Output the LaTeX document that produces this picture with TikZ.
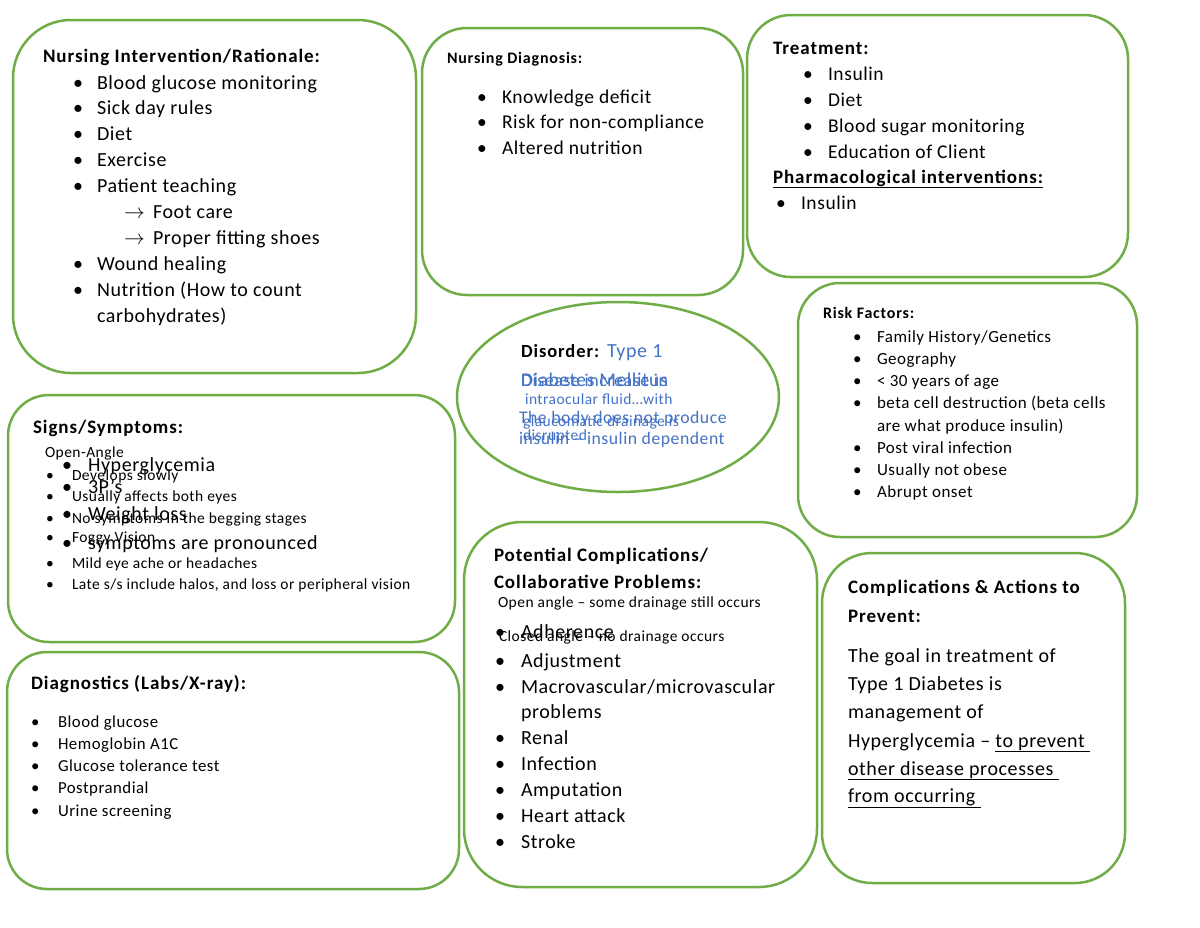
\documentclass[tikz,border=0pt]{standalone}
\usepackage{fontspec}
\setmainfont{Carlito}[LetterSpace=3,BoldFeatures={LetterSpace=5}]
\definecolor{boxgreen}{RGB}{112,173,71}
\definecolor{dblue}{RGB}{68,114,196}
\newcommand\fs[1]{\fontsize{#1}{#1}\selectfont}
\newcommand\bul[5]{\node[tx] (#1b) at (#2,#4) {•};\node[tx] (#1) at (#3,#4) {#5};}
\begin{document}
\begin{tikzpicture}[x=1pt,y=-1pt,
  tx/.style={anchor=base west,inner sep=0pt,outer sep=0pt},
  box/.style={draw=boxgreen,line width=2.5pt},
  hdr/.style={font=\fs{#1}\bfseries}]
\useasboundingbox (0,0) rectangle (1200,927);
\fill[white] (0,0) rectangle (1200,927);

% ---------- boxes ----------
\draw[box,rounded corners=58pt] (13,20) rectangle (416,373);
\draw[box,rounded corners=45pt] (422,28) rectangle (743,295);
\draw[box,rounded corners=44pt] (747,15) rectangle (1128,277);
\draw[box,rounded corners=42pt] (798,283) rectangle (1137,537);
\draw[box] (618,397) ellipse [x radius=161, y radius=95];
\draw[box,rounded corners=41pt] (8,395) rectangle (455,642);
\draw[box,rounded corners=40pt] (7,652) rectangle (459,889);
\draw[box,rounded corners=58pt] (464,522) rectangle (817,887);
\draw[box,rounded corners=50pt] (822,553) rectangle (1125,883);

% ---------- Nursing Intervention ----------
\node[tx,hdr=19] (niH) at (43,62) {Nursing Intervention/Rationale:};
\begin{scope}[every node/.append style={font=\fs{20}}]
\bul{ni1}{73}{97}{89}{Blood glucose monitoring}
\bul{ni2}{73}{97}{114}{Sick day rules}
\bul{ni3}{73}{97}{140}{Diet}
\bul{ni4}{73}{97}{166}{Exercise}
\bul{ni5}{73}{97}{192}{Patient teaching}
\node[tx] (ni6a) at (124,218) {$\rightarrow$};
\node[tx] (ni6) at (153,218) {Foot care};
\node[tx] (ni7a) at (124,244) {$\rightarrow$};
\node[tx] (ni7) at (153,244) {Proper fitting shoes};
\bul{ni8}{73}{97}{270}{Wound healing}
\bul{ni9}{73}{97}{296}{Nutrition (How to count}
\node[tx] (ni10) at (97,322) {carbohydrates)};
\end{scope}

% ---------- Nursing Diagnosis ----------
\node[tx,hdr=16] (ndH) at (447,63) {Nursing Diagnosis:};
\begin{scope}[every node/.append style={font=\fs{19.5}}]
\bul{nd1}{477}{502}{103}{Knowledge deficit}
\bul{nd2}{477}{502}{128}{Risk for non-compliance}
\bul{nd3}{477}{502}{154}{Altered nutrition}
\end{scope}

% ---------- Treatment ----------
\node[tx,hdr=19] (trH) at (773,54) {Treatment:};
\begin{scope}[every node/.append style={font=\fs{19.5}}]
\bul{tr1}{803}{828}{80}{Insulin}
\bul{tr2}{803}{828}{106}{Diet}
\bul{tr3}{803}{828}{132}{Blood sugar monitoring}
\bul{tr4}{803}{828}{158}{Education of Client}
\node[tx,hdr=19] (phH) at (773,183) {\underline{Pharmacological interventions:}};
\bul{ph1}{776}{801}{209}{Insulin}
\end{scope}

% ---------- Risk Factors ----------
\node[tx,hdr=16] (rfH) at (823,318) {Risk Factors:};
\begin{scope}[every node/.append style={font=\fs{17}}]
\bul{rf1}{853}{877}{342}{Family History/Genetics}
\bul{rf2}{853}{877}{364}{Geography}
\bul{rf3}{853}{877}{386}{< 30 years of age}
\bul{rf4}{853}{877}{408}{beta cell destruction (beta cells}
\node[tx] (rf4c) at (877,431) {are what produce insulin)};
\bul{rf5}{853}{877}{453}{Post viral infection}
\bul{rf6}{853}{877}{475}{Usually not obese}
\bul{rf7}{853}{877}{497}{Abrupt onset}
\end{scope}

% ---------- Disorder (ellipse) ----------
\node[tx,font=\fs{18.5}\bfseries] (dis1) at (521,357) {Disorder:};
\node[tx,font=\fs{20},text=dblue] (dis1t) at (607,357) {Type 1};
\node[tx,font=\fs{18},text=dblue] (dis2b) at (521,386) {Disease increase in};
\node[tx,font=\fs{19.5},text=dblue] (dis2) at (521,386) {Diabetes Mellitus};
\node[tx,font=\fs{15.5},text=dblue] (dis3) at (525,404) {intraocular fluid…with};
\node[tx,font=\fs{15.5},text=dblue] (dis4b) at (523,426) {glaucomatic drainage is};
\node[tx,font=\fs{17.7},text=dblue] (dis4) at (519,423) {The body does not produce};
\node[tx,font=\fs{15.5},text=dblue] (dis5b) at (523,440) {disrupted};
\node[tx,font=\fs{17.7},text=dblue] (dis5) at (519,444) {insulin – insulin dependent};

% ---------- Signs/Symptoms ----------
\node[tx,hdr=19] (ssH) at (33,433) {Signs/Symptoms:};
\node[tx,font=\fs{15.5}] (ssO) at (45,457) {Open-Angle};
\begin{scope}[every node/.append style={font=\fs{15.5}}]
\bul{ss1}{46}{72}{480}{Develops slowly}
\bul{ss2}{46}{72}{501}{Usually affects both eyes}
\bul{ss3}{46}{72}{523}{No symptoms in the begging stages}
\bul{ss4}{46}{72}{542}{Foggy Vision}
\bul{ss5}{46}{72}{568}{Mild eye ache or headaches}
\bul{ss6}{46}{72}{589}{Late s/s include halos, and loss or peripheral vision}
\end{scope}
\begin{scope}[every node/.append style={font=\fs{20}}]
\bul{sb1}{62}{88}{471}{Hyperglycemia}
\bul{sb2}{62}{88}{493}{3P’s}
\bul{sb3}{62}{88}{520}{Weight loss}
\bul{sb4}{62}{88}{549}{symptoms are pronounced}
\end{scope}

% ---------- Diagnostics ----------
\node[tx,hdr=19] (dgH) at (31,689) {Diagnostics (Labs/X-ray):};
\begin{scope}[every node/.append style={font=\fs{16.8}}]
\bul{dg1}{31}{58}{727}{Blood glucose}
\bul{dg2}{31}{58}{749}{Hemoglobin A1C}
\bul{dg3}{31}{58}{771}{Glucose tolerance test}
\bul{dg4}{31}{58}{793}{Postprandial}
\bul{dg5}{31}{58}{816}{Urine screening}
\end{scope}

% ---------- Potential Complications ----------
\node[tx,hdr=19] (pcH1) at (494,561) {Potential Complications/};
\node[tx,hdr=19] (pcH2) at (494,588) {Collaborative Problems:};
\node[tx,font=\fs{15.5}] (pcO) at (498,607) {Open angle – some drainage still occurs};
\node[tx,font=\fs{15.5}] (pcC) at (499,641) {Closed angle – no drainage occurs};
\begin{scope}[every node/.append style={font=\fs{20}}]
\bul{pc1}{495}{521}{638}{Adherence}
\bul{pc2}{495}{521}{667}{Adjustment}
\bul{pc3}{495}{521}{693}{Macrovascular/microvascular}
\node[tx] (pc3c) at (521,718) {problems};
\bul{pc4}{495}{521}{744}{Renal}
\bul{pc5}{495}{521}{770}{Infection}
\bul{pc6}{495}{521}{796}{Amputation}
\bul{pc7}{495}{521}{822}{Heart attack}
\bul{pc8}{495}{521}{848}{Stroke}
\end{scope}

% ---------- Complications & Actions ----------
\node[tx,hdr=19] (caH1) at (848,593) {Complications \& Actions to};
\node[tx,hdr=19] (caH2) at (848,622) {Prevent:};
\begin{scope}[every node/.append style={font=\fs{20}}]
\node[tx] (ca1) at (848,662) {The goal in treatment of};
\node[tx] (ca2) at (848,690) {Type 1 Diabetes is};
\node[tx] (ca3) at (848,718) {management of};
\node[tx] (ca4) at (848,747) {Hyperglycemia – \underline{to prevent\ }};
\node[tx] (ca5) at (848,775) {\underline{other disease processes\ }};
\node[tx] (ca6) at (848,802) {\underline{from occurring\ }};
\end{scope}
\end{tikzpicture}
\end{document}
